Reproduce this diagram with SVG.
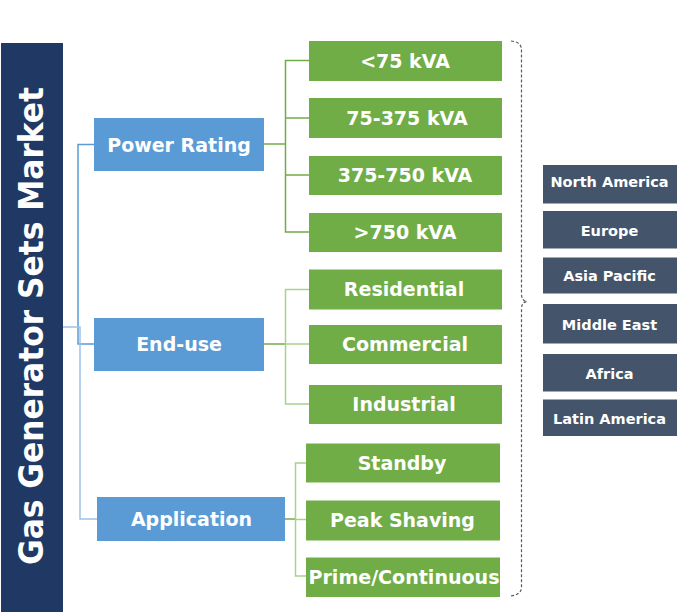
<svg xmlns="http://www.w3.org/2000/svg" width="687" height="616" viewBox="0 0 687 616">
<style>
text{font-family:"DejaVu Sans","Verdana",sans-serif;font-weight:bold;fill:#fff;text-anchor:middle}
.seg rect{fill:#5B9BD5}
.sub rect{fill:#70AD47}
.reg rect{fill:#44546A}
.seg text{font-size:19px}
.sub text{font-size:19px}
.reg text{font-size:14.5px}
.cb{fill:none;stroke:#5B9BD5;stroke-width:1.5}
.cb2{fill:none;stroke:#9DC3E6;stroke-width:1.5}
.cg{fill:none;stroke:#70AD47;stroke-width:1.5}
.cg2{fill:none;stroke:#A9D18E;stroke-width:1.5}
.brace{fill:none;stroke:#595959;stroke-width:1.2;stroke-dasharray:3 2}
</style>
<rect width="687" height="616" fill="#fff"/>
<g id="title">
<rect x="1" y="43" width="62" height="569" fill="#203864"/>
<text transform="translate(43,326) rotate(-90)" font-size="33" textLength="478" lengthAdjust="spacingAndGlyphs">Gas Generator Sets Market</text>
</g>
<g id="connectors">
<path class="cb" d="M94,144.5H78V344H94"/>
<path class="cb2" d="M63,327H80V519H97"/>
<path class="cg" d="M264,144H285.5"/>
<path class="cg" d="M309,60.5H285.5V232H309M285.5,118H309M285.5,175H309"/>
<path class="cg" d="M264,344H285.5"/>
<path class="cg2" d="M309,289.5H285.5V404H309M285.5,344H309"/>
<path class="cg" d="M285,519H295.5"/>
<path class="cg2" d="M306,463H295.5V576H306M295.5,519.5H306"/>
<path class="brace" d="M511,41Q521.5,42 521.5,50V294Q521.5,301 527,301.5Q521.5,302 521.5,309V587Q521.5,595 510,596"/>
</g>
<g id="power-rating" class="seg"><rect x="94" y="118" width="170" height="53"/><text x="179" y="151.5">Power Rating</text></g>
<g id="end-use" class="seg"><rect x="94" y="318" width="170" height="53"/><text x="179" y="351">End-use</text></g>
<g id="application" class="seg"><rect x="97" y="497" width="188" height="44"/><text x="191.5" y="525.5">Application</text></g>
<g id="lt75" class="sub"><rect x="309" y="41" width="193" height="40"/><text x="405" y="67.5">&lt;75 kVA</text></g>
<g id="r75-375" class="sub"><rect x="309" y="98" width="193" height="40"/><text x="407" y="124.5">75-375 kVA</text></g>
<g id="r375-750" class="sub"><rect x="309" y="156" width="193" height="39"/><text x="405" y="182">375-750 kVA</text></g>
<g id="gt750" class="sub"><rect x="309" y="213" width="193" height="39"/><text x="405" y="239">&gt;750 kVA</text></g>
<g id="residential" class="sub"><rect x="309" y="269.5" width="193" height="40"/><text x="404" y="296">Residential</text></g>
<g id="commercial" class="sub"><rect x="309" y="325" width="193" height="39"/><text x="405" y="351">Commercial</text></g>
<g id="industrial" class="sub"><rect x="309" y="385" width="193" height="39"/><text x="404" y="411">Industrial</text></g>
<g id="standby" class="sub"><rect x="306" y="443.5" width="194" height="39"/><text x="402" y="469.5">Standby</text></g>
<g id="peak-shaving" class="sub"><rect x="306" y="500.5" width="194" height="40"/><text x="402.5" y="527">Peak Shaving</text></g>
<g id="prime-continuous" class="sub"><rect x="306" y="557.5" width="194" height="39.5"/><text x="404" y="584" textLength="191" lengthAdjust="spacingAndGlyphs">Prime/Continuous</text></g>
<g id="north-america" class="reg"><rect x="543" y="165" width="134" height="38.5"/><text x="609.5" y="187">North America</text></g>
<g id="europe" class="reg"><rect x="543" y="211" width="134" height="37.5"/><text x="609.5" y="235.5">Europe</text></g>
<g id="asia-pacific" class="reg"><rect x="543" y="257.5" width="134" height="36"/><text x="609.5" y="281">Asia Pacific</text></g>
<g id="middle-east" class="reg"><rect x="543" y="304" width="134" height="39.5"/><text x="609.5" y="329.5">Middle East</text></g>
<g id="africa" class="reg"><rect x="543" y="354" width="134" height="37.5"/><text x="609.5" y="378.5">Africa</text></g>
<g id="latin-america" class="reg"><rect x="543" y="399.5" width="134" height="36.5"/><text x="609.5" y="423.5">Latin America</text></g>
</svg>
